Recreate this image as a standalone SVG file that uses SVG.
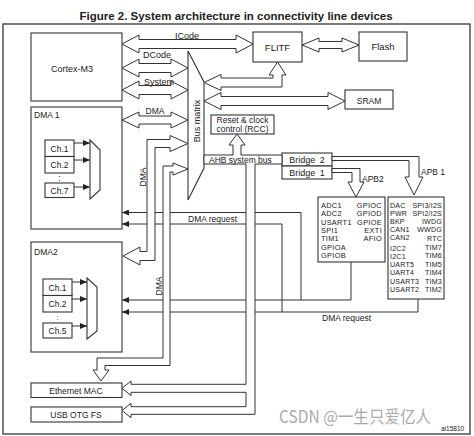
<svg xmlns="http://www.w3.org/2000/svg" width="474" height="436" viewBox="0 0 474 436">
<style>
.box{fill:#fff;stroke:#333;stroke-width:1.1}
.ln{fill:none;stroke:#333;stroke-width:1}
.bus{fill:#fff;stroke:#333;stroke-width:1;stroke-linejoin:miter}
.t{font-family:"Liberation Sans",Arial,Helvetica,sans-serif;fill:#222;font-size:9px}
.s8{font-size:8.5px}
.s7{font-size:7.1px}
.m{text-anchor:middle}
.e{text-anchor:end}
</style>
<defs>
<marker id="fa" markerWidth="7" markerHeight="6" refX="7" refY="3" orient="auto" markerUnits="userSpaceOnUse"><path d="M0,0 L7,3 L0,6 z" fill="#222"/></marker>
</defs>
<rect width="474" height="436" fill="#fff"/>
<text class="t m" x="236" y="20" style="font-size:11.5px;font-weight:bold">Figure 2. System architecture in connectivity line devices</text>
<rect x="3" y="24" width="467" height="410" fill="none" stroke="#444" stroke-width="1.4"/>

<g id="cortex-m3"><rect class="box" x="31" y="33" width="91" height="68"/><text class="t m" x="72" y="72">Cortex-M3</text></g>

<g id="dma1">
<rect class="box" x="31" y="107" width="91" height="122"/>
<text class="t s8" x="34" y="118">DMA 1</text>
<rect class="box" x="45" y="140" width="29" height="16.5"/><text class="t s8 m" x="59.5" y="151.5">Ch.1</text>
<rect class="box" x="45" y="156.5" width="29" height="16.5"/><text class="t s8 m" x="59.5" y="168">Ch.2</text>
<text class="t m" x="59.5" y="181" style="font-size:9px">:</text>
<rect class="box" x="45" y="183" width="29" height="14.5"/><text class="t s8 m" x="59.5" y="193.5">Ch.7</text>
<polygon class="box" points="90,140 100,150 100,190 90,199"/>
<path class="ln" d="M74,143 H90" marker-end="url(#fa)"/>
<path class="ln" d="M74,160 H90" marker-end="url(#fa)"/>
<path class="ln" d="M74,187 H90" marker-end="url(#fa)"/>
</g>

<g id="dma2">
<rect class="box" x="31" y="242" width="91" height="110"/>
<text class="t s8" x="34" y="255">DMA2</text>
<rect class="box" x="43" y="279" width="29" height="16.5"/><text class="t s8 m" x="57.5" y="290.5">Ch.1</text>
<rect class="box" x="43" y="295.5" width="29" height="16.5"/><text class="t s8 m" x="57.5" y="307">Ch.2</text>
<text class="t m" x="57.5" y="320" style="font-size:8px">:</text>
<rect class="box" x="43" y="323" width="29" height="15"/><text class="t s8 m" x="57.5" y="334">Ch.5</text>
<polygon class="box" points="87,278 97,287 97,331 87,339"/>
<path class="ln" d="M72,282 H87" marker-end="url(#fa)"/>
<path class="ln" d="M72,299 H87" marker-end="url(#fa)"/>
<path class="ln" d="M72,326 H87" marker-end="url(#fa)"/>
</g>

<g id="bus-matrix"><polygon class="box" points="188,51 204,82 204,168 188,200"/><text class="t m" transform="translate(199.5,121) rotate(-90)">Bus matrix</text></g>

<g id="flitf"><rect class="box" x="253" y="32" width="49" height="30"/><text class="t m" x="277.5" y="50.5" style="font-size:9.5px">FLITF</text></g>
<g id="flash"><rect class="box" x="359" y="32" width="48" height="29"/><text class="t m" x="383" y="49.5" style="font-size:9.5px">Flash</text></g>
<g id="sram"><rect class="box" x="345" y="90" width="48" height="19"/><text class="t m" x="369" y="103.5" style="font-size:8.5px">SRAM</text></g>
<g id="rcc"><rect class="box" x="211" y="115" width="63" height="19"/><text class="t s8 m" x="242.5" y="123">Reset &amp; clock</text><text class="t s8 m" x="242.5" y="131.5">control (RCC)</text></g>
<g id="bridge2"><rect class="box" x="282" y="153" width="50" height="13"/><text class="t m" x="307" y="163" style="word-spacing:2px">Bridge 2</text></g>
<g id="bridge1"><rect class="box" x="282" y="166" width="50" height="13"/><text class="t m" x="307" y="176" style="word-spacing:2px">Bridge 1</text></g>

<g id="apb2-peripherals">
<rect class="box" x="318" y="197" width="67" height="65"/>
<g class="t" style="font-size:7.4px;letter-spacing:0.3px">
<text x="321" y="208">ADC1</text><text x="321" y="216.3">ADC2</text><text x="321" y="224.6">USART1</text><text x="321" y="232.9">SPI1</text><text x="321" y="241.2">TIM1</text><text x="321" y="249.5">GPIOA</text><text x="321" y="257.8">GPIOB</text>
<text class="e" x="382" y="208">GPIOC</text><text class="e" x="382" y="216.3">GPIOD</text><text class="e" x="382" y="224.6">GPIOE</text><text class="e" x="382" y="232.9">EXTI</text><text class="e" x="382" y="241.2">AFIO</text>
</g>
</g>

<g id="apb1-peripherals">
<rect class="box" x="388" y="197" width="56" height="102"/>
<g class="t s7" style="letter-spacing:0.2px">
<text x="390" y="208">DAC</text><text x="390" y="216">PWR</text><text x="390" y="224">BKP</text><text x="390" y="232">CAN1</text><text x="390" y="240">CAN2</text><text x="390" y="250.5">I2C2</text><text x="390" y="258.5">I2C1</text><text x="390" y="266.5">UART5</text><text x="390" y="275">UART4</text><text x="390" y="283.5">USART3</text><text x="390" y="292">USART2</text>
<text class="e" x="442" y="208">SPI3/I2S</text><text class="e" x="442" y="216">SPI2/I2S</text><text class="e" x="442" y="224">IWDG</text><text class="e" x="442" y="232">WWDG</text><text class="e" x="442" y="241">RTC</text><text class="e" x="442" y="249.5">TIM7</text><text class="e" x="442" y="258">TIM6</text><text class="e" x="442" y="266.5">TIM5</text><text class="e" x="442" y="275">TIM4</text><text class="e" x="442" y="283.5">TIM3</text><text class="e" x="442" y="292">TIM2</text>
</g>
</g>

<g id="ethernet-mac"><rect class="box" x="31" y="383" width="91" height="14.5"/><text class="t s8 m" x="76" y="393.5">Ethernet MAC</text></g>
<g id="usb-otg-fs"><rect class="box" x="31" y="407" width="91" height="15"/><text class="t s8 m" x="76" y="417.8">USB OTG FS</text></g>

<g id="connectors">
<path class="ln" d="M351,262 V300 H122" marker-end="url(#fa)"/>
<path class="ln" d="M301,300 V212.5 H122" marker-end="url(#fa)"/>
<path class="ln" d="M418,299 V312 H122" marker-end="url(#fa)"/>
<path class="ln" d="M282,312 V224 H122" marker-end="url(#fa)"/>
<text class="t s8" x="188" y="222">DMA request</text>
<text class="t s8" x="322" y="320.5">DMA request</text>

<polygon class="bus" points="122,44 139,35 139,39.5 236,39.5 236,35 253,44 236,53 236,48.5 139,48.5 139,53"/>
<text class="t m" x="187" y="38.5">ICode</text>
<polygon class="bus" points="122,68 139,59 139,63.5 171,63.5 171,59 188,68 171,77 171,72.5 139,72.5 139,77"/>
<text class="t m" x="157" y="58">DCode</text>
<polygon class="bus" points="122,90 139,81 139,85.5 171,85.5 171,81 188,90 171,99 171,94.5 139,94.5 139,99"/>
<text class="t m" x="159" y="84.5">System</text>
<polygon class="bus" points="122,120 139,112 139,116 171,116 171,112 188,120 171,128 171,124 139,124 139,128"/>
<text class="t s8 m" x="155" y="114">DMA</text>

<polygon class="bus" points="302,45 319,38 319,41.5 342,41.5 342,38 359,45 342,52 342,48.5 319,48.5 319,52"/>
<polygon class="bus" points="204,82.5 221,74.5 221,78 273,78 273,75 269,75 277.5,62 286,75 282,75 282,87 221,87 221,90.5"/>
<polygon class="bus" points="204,101 221,92.5 221,96.5 328,96.5 328,92.5 345,101 328,109.5 328,105.5 221,105.5 221,109.5"/>

<polygon class="bus" points="188,143.5 170,135.5 170,139.5 147,139.5 147,251.5 140,251.5 140,247 123,256 140,265 140,260.5 155,260.5 155,147.5 170,147.5 170,151.5"/>
<text class="t s8 m" transform="translate(146,177) rotate(-90)">DMA</text>
<polygon class="bus" points="188,169 173,163 173,166 163,166 163,358 97,358 97,370 93,370 101,381 109,370 105,370 105,365.5 170,365.5 170,172 173,172 173,175"/>
<text class="t s8 m" transform="translate(162,286) rotate(-90)">DMA</text>

<polygon class="bus" points="204,155 233,155 233,145 229,145 237,134 245,145 241,145 241,155 282,155 282,164 255,164 255,414.3 131,414.3 131,417.8 122,410.5 131,403.2 131,406.7 246,406.7 246,392.3 131,392.3 131,395.6 122,388.3 131,381 131,384.3 246,384.3 246,164 204,164"/>
<text class="t s8" x="209" y="162.5">AHB system bus</text>

<polygon class="bus" points="332,156.5 419,156.5 419,177 423,177 414,195 405,177 409,177 409,160.5 332,160.5"/>
<text class="t s8" x="421" y="174.5">APB 1</text>
<polygon class="bus" points="332,168.5 360,168.5 360,182 364,182 356,197 348,182 352,182 352,172.5 332,172.5"/>
<text class="t s8" x="362" y="181.5">APB2</text>
</g>

<text x="279" y="423" style="font-family:'Noto Sans CJK SC','Liberation Sans',sans-serif;font-size:17px;fill:#aaa" textLength="152" lengthAdjust="spacingAndGlyphs">CSDN @一生只爱亿人</text>
<text class="t" x="441" y="431" style="font-size:6.5px">ai15810</text>
</svg>
